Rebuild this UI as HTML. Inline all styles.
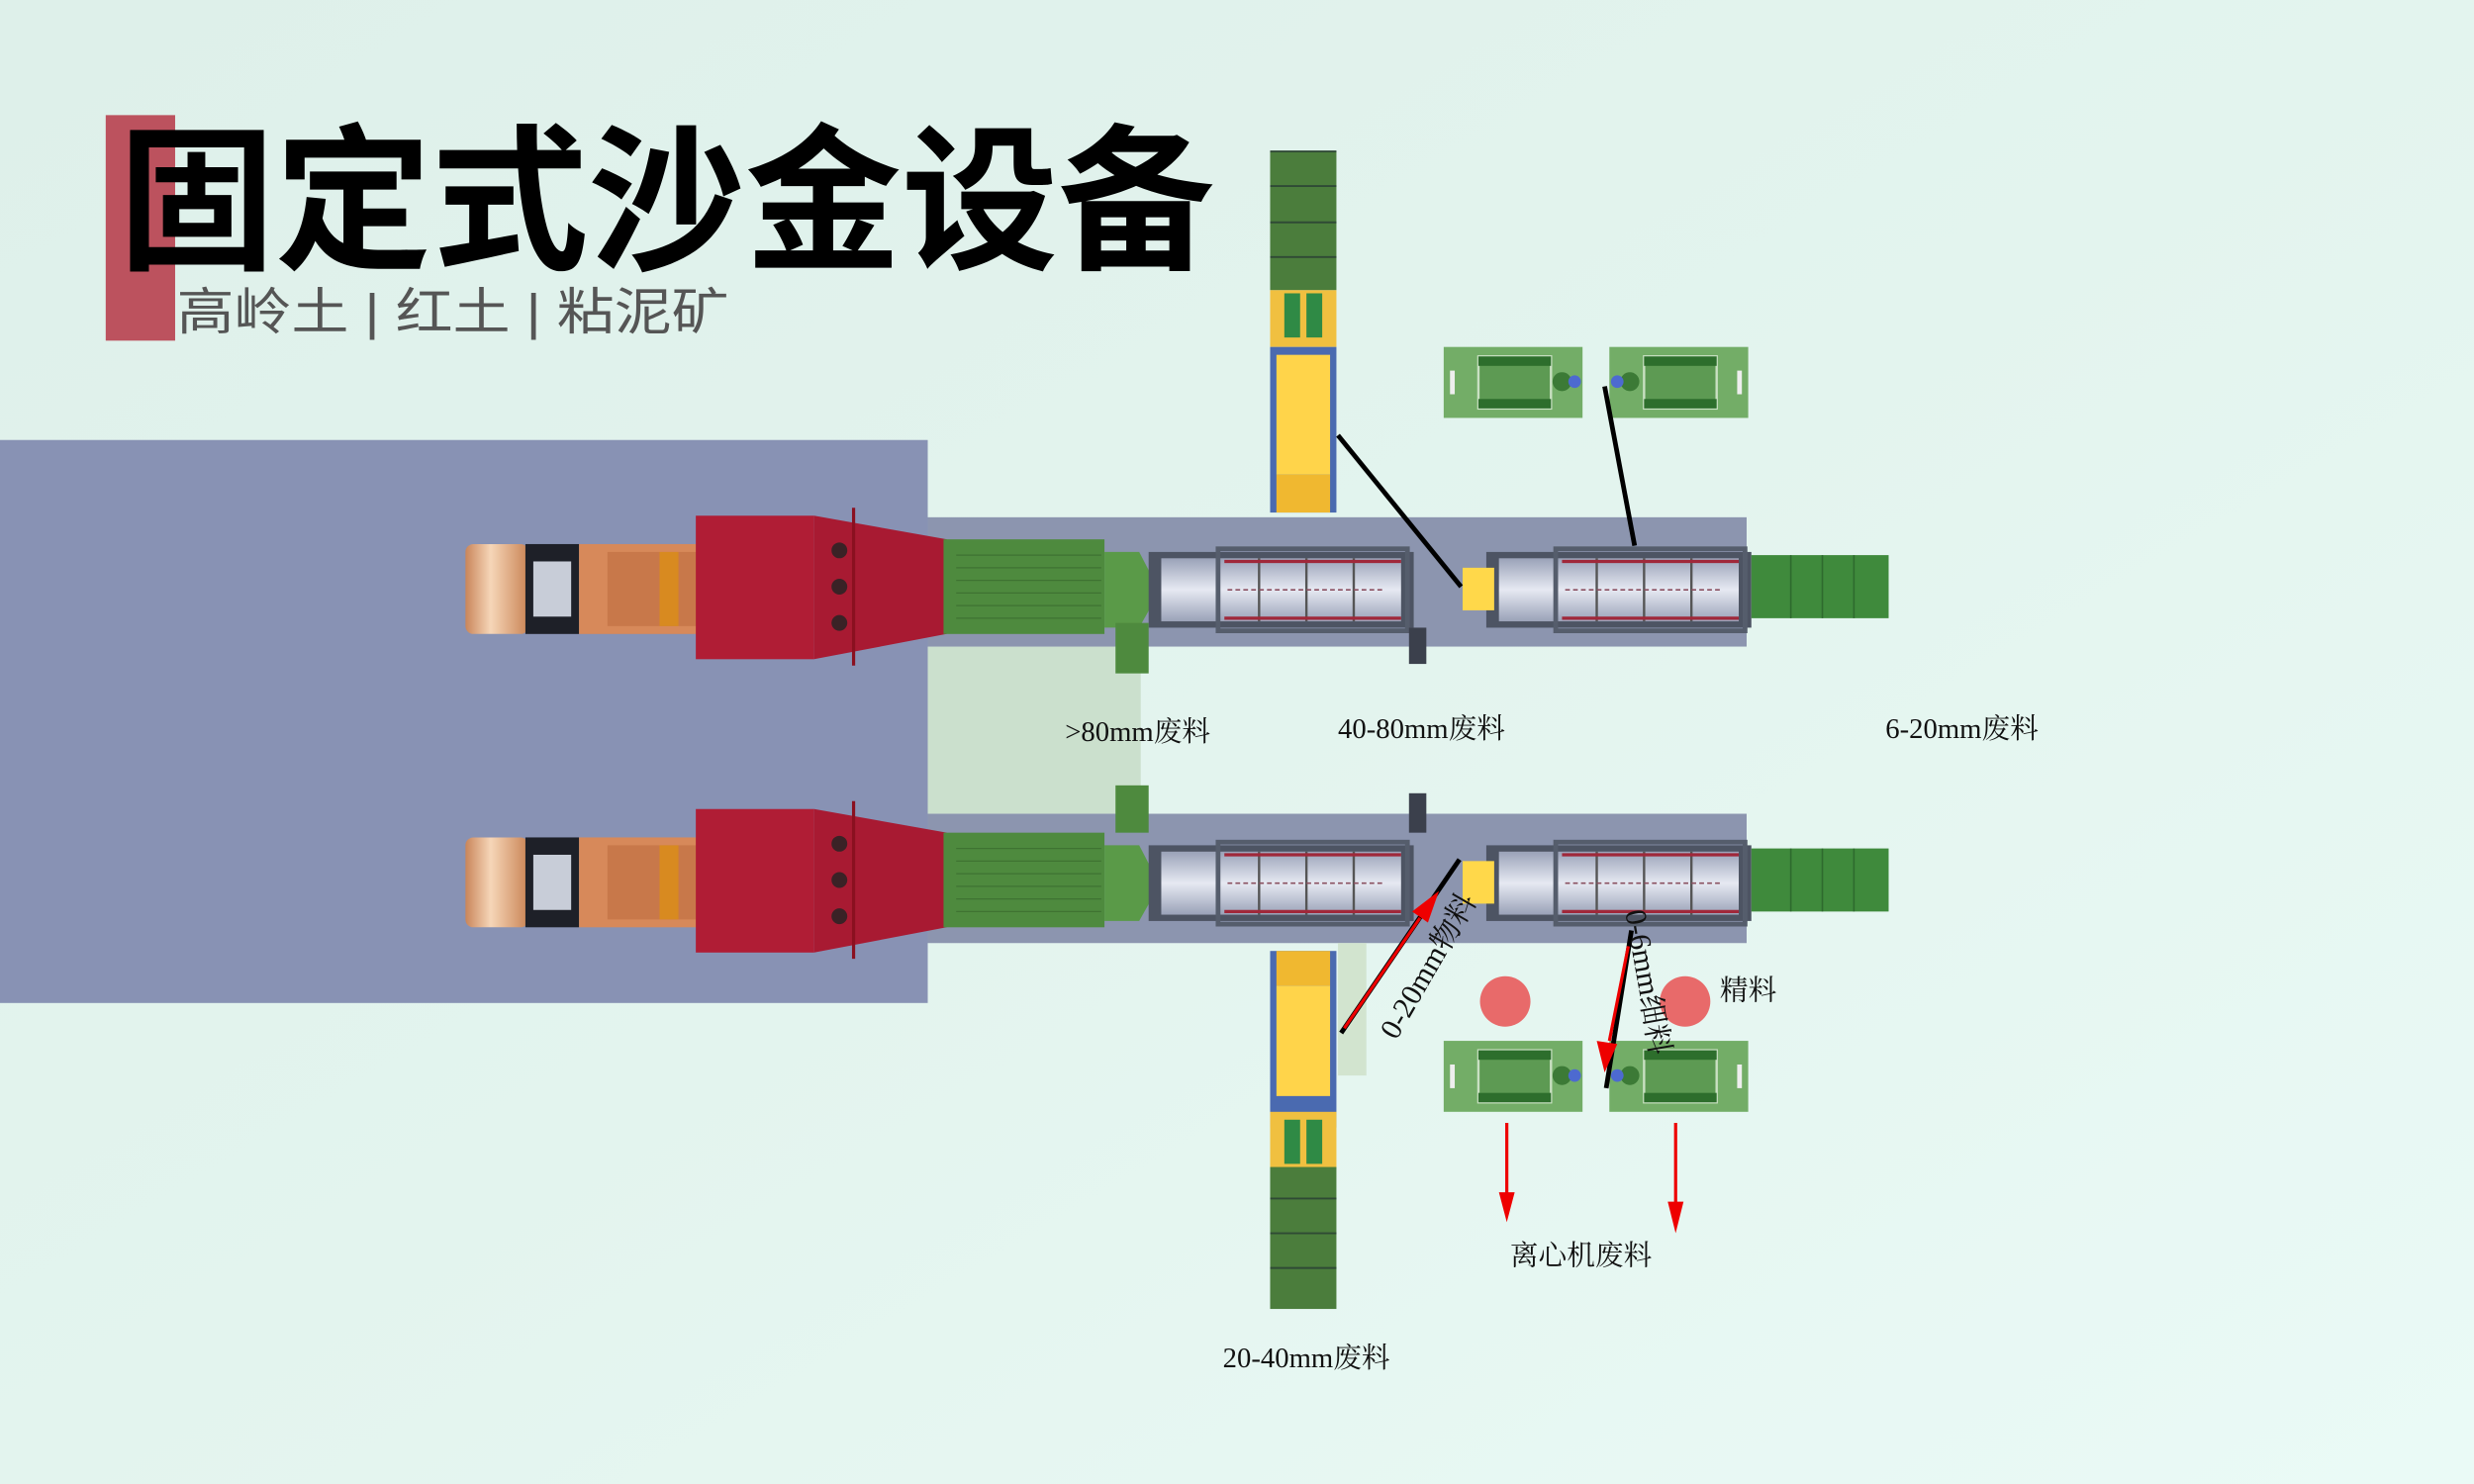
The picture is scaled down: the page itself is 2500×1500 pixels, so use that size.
<!DOCTYPE html>
<html><head><meta charset="utf-8"><style>
html,body{margin:0;padding:0;width:2500px;height:1500px;overflow:hidden;background:#e6f6f1}
svg{display:block}
text{font-family:"Liberation Serif","Noto Serif CJK SC",serif;fill:#111}
</style></head><body>
<svg width="2500" height="1500" viewBox="0 0 1568 941" preserveAspectRatio="none" xmlns="http://www.w3.org/2000/svg">
<defs>
<linearGradient id="bg" x1="0" y1="0" x2="1" y2="1"><stop offset="0" stop-color="#def0ea"/><stop offset="0.5" stop-color="#e3f4ee"/><stop offset="1" stop-color="#eafaf6"/></linearGradient>
<linearGradient id="drum" x1="0" y1="0" x2="0" y2="1"><stop offset="0" stop-color="#9aa2b8"/><stop offset="0.5" stop-color="#e6e9f2"/><stop offset="1" stop-color="#9aa2b8"/></linearGradient>
<linearGradient id="cab" x1="0" y1="0" x2="1" y2="0"><stop offset="0" stop-color="#c9855a"/><stop offset="0.4" stop-color="#f6d6b8"/><stop offset="1" stop-color="#c98455"/></linearGradient>
<g id="trom">
 <rect x="0" y="0" width="168" height="48" fill="#4d5463"/>
 <rect x="8" y="4" width="152" height="40" fill="url(#drum)"/>
 <rect x="44" y="-2" width="120" height="52" fill="none" stroke="#555d6c" stroke-width="3"/>
 <line x1="70" y1="4" x2="70" y2="44" stroke="#555" stroke-width="1.5"/>
 <line x1="100" y1="4" x2="100" y2="44" stroke="#555" stroke-width="1.5"/>
 <line x1="130" y1="4" x2="130" y2="44" stroke="#555" stroke-width="1.5"/>
 <line x1="48" y1="6" x2="160" y2="6" stroke="#a0283a" stroke-width="2"/>
 <line x1="48" y1="42" x2="160" y2="42" stroke="#a0283a" stroke-width="2"/>
 <line x1="50" y1="24" x2="150" y2="24" stroke="#8a5060" stroke-width="1" stroke-dasharray="3,2"/>
</g>
<g id="unit">
 <rect x="295" y="345" width="40" height="57" rx="5" fill="url(#cab)"/>
 <rect x="333" y="345" width="34" height="57" fill="#1e2028"/>
 <rect x="338" y="356" width="24" height="35" fill="#c8cdd8"/>
 <rect x="367" y="345" width="86" height="57" fill="#d7895a"/>
 <rect x="385" y="350" width="60" height="47" fill="#c8784a"/>
 <rect x="418" y="350" width="12" height="47" fill="#d88a20"/>
 <rect x="441" y="327" width="75" height="91" fill="#b01d35"/>
 <polygon points="516,327 600,342 600,402 516,418" fill="#a81a32"/>
 <line x1="541" y1="322" x2="541" y2="422" stroke="#8a1020" stroke-width="2"/>
 <circle cx="532" cy="349" r="5" fill="#3a2226"/><circle cx="532" cy="372" r="5" fill="#3a2226"/><circle cx="532" cy="395" r="5" fill="#3a2226"/>
 <rect x="598" y="342" width="102" height="60" fill="#4e8a3e"/>
 <g stroke="#3f7332" stroke-width="0.8"><line x1="606" y1="352" x2="698" y2="352"/><line x1="606" y1="360" x2="698" y2="360"/><line x1="606" y1="368" x2="698" y2="368"/><line x1="606" y1="376" x2="698" y2="376"/><line x1="606" y1="384" x2="698" y2="384"/><line x1="606" y1="392" x2="698" y2="392"/></g>
 <polygon points="700,350 722,350 735,375 722,398 700,398" fill="#5a9a48"/>
 <use href="#trom" x="728" y="350"/>
 <use href="#trom" x="942" y="350"/>
 <rect x="927" y="360" width="20" height="27" fill="#ffd84a"/>
 <rect x="1110" y="352" width="87" height="40" fill="#3f8a3c"/>
 <g stroke="#2e6a2e" stroke-width="1"><line x1="1135" y1="352" x2="1135" y2="392"/><line x1="1155" y1="352" x2="1155" y2="392"/><line x1="1175" y1="352" x2="1175" y2="392"/></g>
</g>
<g id="cent">
 <rect x="0" y="0" width="88" height="45" fill="#73ad67"/>
 <rect x="22" y="6" width="46" height="33" fill="#5d9a53" stroke="#c9e0c2" stroke-width="1.5"/>
 <rect x="22" y="6" width="46" height="6" fill="#2d6e2c"/>
 <rect x="22" y="33" width="46" height="6" fill="#2d6e2c"/>
 <rect x="4" y="15" width="3" height="15" fill="#eee"/>
 <circle cx="75" cy="22" r="6" fill="#3c7a36"/>
</g>
</defs>
<rect width="1568" height="941" fill="url(#bg)"/>

<rect x="0" y="279" width="588" height="357" fill="#8892b4"/>
<rect x="588" y="410" width="135" height="106" fill="#cbe0cd"/>
<rect x="588" y="328" width="519" height="82" fill="#8c95af"/>
<rect x="588" y="516" width="519" height="82" fill="#8c95af"/>
<rect x="848" y="598" width="18" height="84" fill="#d2e4cf"/>

<use href="#unit"/>
<use href="#unit" y="186"/>

<rect x="707" y="395" width="21" height="32" fill="#4e8a3e"/>
<rect x="707" y="498" width="21" height="30" fill="#4e8a3e"/>
<rect x="893" y="398" width="11" height="23" fill="#3b404c"/>
<rect x="893" y="503" width="11" height="25" fill="#3b404c"/>

<rect x="805" y="96" width="42" height="88" fill="#4b7d3c"/>
<g stroke="#2f4a35" stroke-width="1.2"><line x1="805" y1="96" x2="847" y2="96"/><line x1="805" y1="118" x2="847" y2="118"/><line x1="805" y1="141" x2="847" y2="141"/><line x1="805" y1="163" x2="847" y2="163"/></g>
<rect x="805" y="184" width="42" height="36" fill="#f0c040"/>
<rect x="814" y="186" width="10" height="28" fill="#2f8a45"/><rect x="828" y="186" width="10" height="28" fill="#2f8a45"/>
<rect x="805" y="220" width="42" height="105" fill="#4a6ab0"/>
<rect x="809" y="225" width="34" height="76" fill="#ffd44a"/>
<rect x="809" y="301" width="34" height="24" fill="#f0b830"/>

<rect x="805" y="603" width="42" height="112" fill="#4a6ab0"/>
<rect x="809" y="603" width="34" height="22" fill="#f0b830"/>
<rect x="809" y="625" width="34" height="70" fill="#ffd44a"/>
<rect x="805" y="705" width="42" height="36" fill="#f0c040"/>
<rect x="814" y="710" width="10" height="28" fill="#2f8a45"/><rect x="828" y="710" width="10" height="28" fill="#2f8a45"/>
<rect x="805" y="740" width="42" height="90" fill="#4b7d3c"/>
<g stroke="#2f4a35" stroke-width="1.2"><line x1="805" y1="760" x2="847" y2="760"/><line x1="805" y1="782" x2="847" y2="782"/><line x1="805" y1="804" x2="847" y2="804"/></g>

<use href="#cent" x="915" y="220"/>
<rect x="1020" y="220" width="88" height="45" fill="#73ad67"/>
<rect x="1042" y="226" width="46" height="33" fill="#5d9a53" stroke="#c9e0c2" stroke-width="1.5"/>
<rect x="1042" y="226" width="46" height="6" fill="#2d6e2c"/><rect x="1042" y="253" width="46" height="6" fill="#2d6e2c"/>
<rect x="1101" y="235" width="3" height="15" fill="#eee"/>
<circle cx="1033" cy="242" r="6" fill="#3c7a36"/>
<circle cx="998" cy="242" r="4" fill="#4d6ad0"/><circle cx="1025" cy="242" r="4" fill="#4d6ad0"/>

<use href="#cent" x="915" y="660"/>
<rect x="1020" y="660" width="88" height="45" fill="#73ad67"/>
<rect x="1042" y="666" width="46" height="33" fill="#5d9a53" stroke="#c9e0c2" stroke-width="1.5"/>
<rect x="1042" y="666" width="46" height="6" fill="#2d6e2c"/><rect x="1042" y="693" width="46" height="6" fill="#2d6e2c"/>
<rect x="1101" y="675" width="3" height="15" fill="#eee"/>
<circle cx="1033" cy="682" r="6" fill="#3c7a36"/>
<circle cx="998" cy="682" r="4" fill="#4d6ad0"/><circle cx="1025" cy="682" r="4" fill="#4d6ad0"/>

<circle cx="954" cy="635" r="16" fill="#e86a6a"/>
<circle cx="1068" cy="635" r="16" fill="#e86a6a"/>

<line x1="848" y1="276" x2="926" y2="372" stroke="#000" stroke-width="3"/>
<line x1="1017" y1="245" x2="1036" y2="346" stroke="#000" stroke-width="3"/>
<line x1="850" y1="655" x2="925" y2="545" stroke="#000" stroke-width="3"/>
<line x1="852" y1="652" x2="900" y2="582" stroke="#e00" stroke-width="2"/>
<polygon points="912,565 895,578 905,585" fill="#e00"/>
<line x1="1034" y1="590" x2="1018" y2="690" stroke="#000" stroke-width="3"/>
<line x1="1032" y1="600" x2="1020" y2="660" stroke="#e00" stroke-width="2"/>
<polygon points="1017,680 1012,660 1025,662" fill="#e00"/>
<line x1="955" y1="712" x2="955" y2="758" stroke="#e00" stroke-width="2"/>
<polygon points="950,756 960,756 955,775" fill="#e00"/>
<line x1="1062" y1="712" x2="1062" y2="764" stroke="#e00" stroke-width="2"/>
<polygon points="1057,762 1067,762 1062,782" fill="#e00"/>

<rect x="67" y="73" width="44" height="143" fill="#b8404f" opacity="0.9"/>
<text x="75" y="163" style="font-family:'Liberation Sans','Noto Sans CJK SC',sans-serif;font-weight:bold;fill:#000" font-size="100" textLength="695" lengthAdjust="spacingAndGlyphs">固定式沙金设备</text>
<text x="112" y="209" style="font-family:'Liberation Sans','Noto Sans CJK SC',sans-serif;fill:#555" font-size="32" textLength="350" lengthAdjust="spacingAndGlyphs">高岭土 | 红土 | 粘泥矿</text>

<text x="675" y="470" font-size="18">&gt;80mm废料</text>
<text x="848" y="468" font-size="18">40-80mm废料</text>
<text x="1195" y="468" font-size="18">6-20mm废料</text>
<text x="775" y="867" font-size="18">20-40mm废料</text>
<text x="957" y="802" font-size="18">离心机废料</text>
<text x="1090" y="634" font-size="18">精料</text>
<text transform="translate(885,660) rotate(-60)" font-size="19">0-20mm物料</text>
<text transform="translate(1030,578) rotate(80)" font-size="19">0-6mm细料</text>
</svg>
</body></html>
